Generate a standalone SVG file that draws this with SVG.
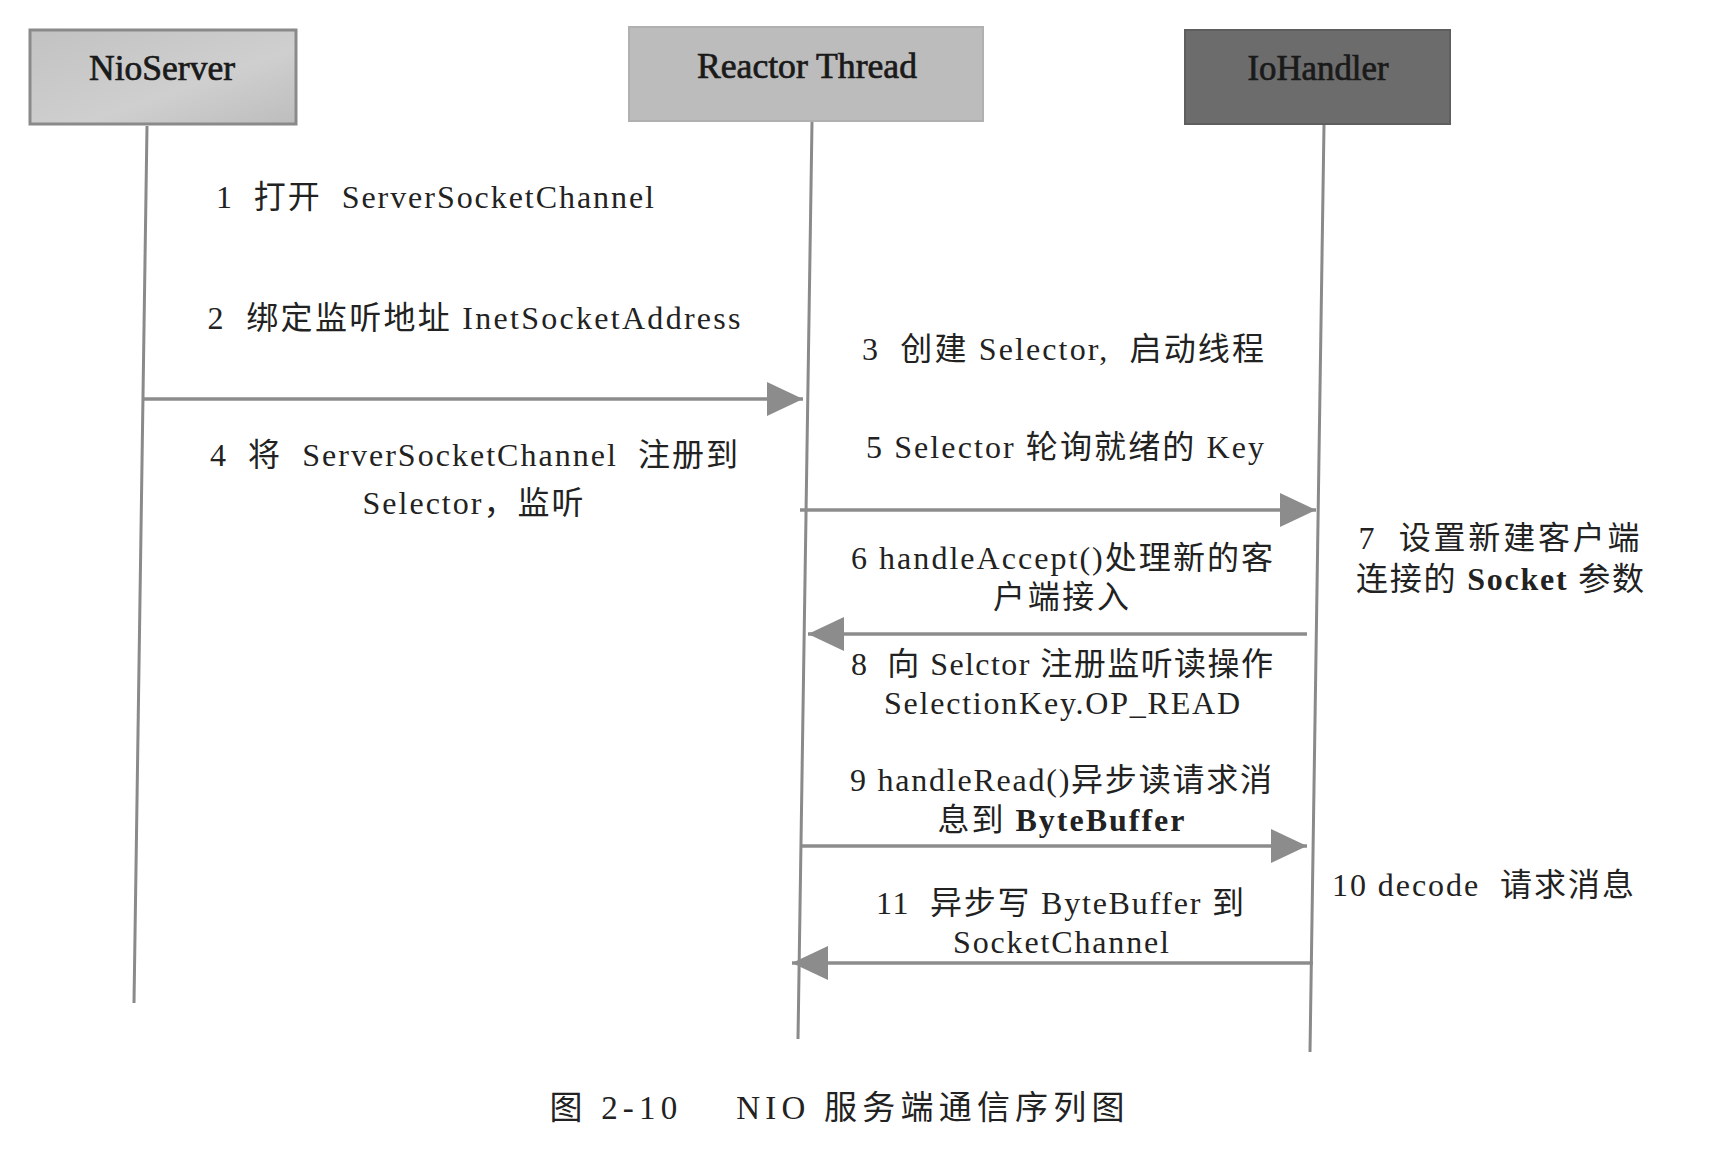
<svg xmlns="http://www.w3.org/2000/svg" width="1719" height="1163" viewBox="0 0 1719 1163">
<style>
.t{font-family:"Liberation Serif","Noto Sans CJK SC",serif;font-size:32px;fill:#222;white-space:pre;}
.h{font-family:"Liberation Serif","Noto Sans CJK SC",serif;font-size:35px;font-weight:normal;fill:#1a1a1a;stroke:#1a1a1a;stroke-width:0.7;}
.b{font-weight:bold;}
.life{stroke:#8a8a8a;stroke-width:3;fill:none;}
.msg{stroke:#8c8c8c;stroke-width:3.5;fill:none;marker-end:url(#ah);}
</style>
<defs>
<marker id="ah" viewBox="0 0 36 34" refX="36" refY="17" markerWidth="36" markerHeight="34" markerUnits="userSpaceOnUse" orient="auto">
<path d="M0,0 L36,17 L0,34 z" fill="#8c8c8c"/>
</marker>
<linearGradient id="g1" x1="0" y1="0" x2="1" y2="1">
<stop offset="0" stop-color="#c2c2c2"/><stop offset="0.6" stop-color="#cfcfcf"/><stop offset="1" stop-color="#bdbdbd"/>
</linearGradient>
</defs>
<rect width="1719" height="1163" fill="#ffffff"/>
<g id="nioserver">
<rect x="30" y="30" width="266" height="94" fill="url(#g1)" stroke="#8a8a8a" stroke-width="3"/>
<text class="h" x="162" y="80" text-anchor="middle" textLength="146" lengthAdjust="spacingAndGlyphs">NioServer</text>
</g>
<g id="reactor">
<rect x="629" y="27" width="354" height="94" fill="#bcbcbc" stroke="#b0b0b0" stroke-width="2"/>
<text class="h" x="807" y="78" text-anchor="middle" textLength="220" lengthAdjust="spacingAndGlyphs">Reactor Thread</text>
</g>
<g id="iohandler">
<rect x="1185" y="30" width="265" height="94" fill="#6c6c6c" stroke="#5e5e5e" stroke-width="2"/>
<text class="h" x="1318" y="80" text-anchor="middle" textLength="141" lengthAdjust="spacingAndGlyphs">IoHandler</text>
</g>
<g id="lifelines">
<line class="life" x1="147" y1="126" x2="134" y2="1003"/>
<line class="life" x1="812" y1="122" x2="798" y2="1039"/>
<line class="life" x1="1324" y1="125" x2="1310" y2="1052"/>
</g>
<g id="connectors">
<line class="msg" x1="144" y1="399" x2="803" y2="399"/>
<line class="msg" x1="800" y1="510" x2="1316" y2="510"/>
<line class="msg" x1="1307" y1="634" x2="808" y2="634"/>
<line class="msg" x1="802" y1="846" x2="1307" y2="846"/>
<line class="msg" x1="1313" y1="963" x2="792" y2="963"/>
</g>
<g id="labels">
<text class="t" x="435" y="208" text-anchor="middle" textLength="438" lengthAdjust="spacing">1  打开  ServerSocketChannel</text>
<text class="t" x="474" y="329" text-anchor="middle" textLength="533" lengthAdjust="spacing">2  绑定监听地址 InetSocketAddress</text>
<text class="t" x="1063" y="360" text-anchor="middle" textLength="402" lengthAdjust="spacing">3  创建 Selector,  启动线程</text>
<text class="t" x="474" y="466" text-anchor="middle" textLength="528" lengthAdjust="spacing">4  将  ServerSocketChannel  注册到</text>
<text class="t" x="473" y="514" text-anchor="middle" textLength="221" lengthAdjust="spacing">Selector，监听</text>
<text class="t" x="1065" y="458" text-anchor="middle" textLength="398" lengthAdjust="spacing">5 Selector 轮询就绪的 Key</text>
<text class="t" x="1062" y="569" text-anchor="middle" textLength="422" lengthAdjust="spacing">6 handleAccept()处理新的客</text>
<text class="t" x="1061" y="608" text-anchor="middle" textLength="136" lengthAdjust="spacing">户端接入</text>
<text class="t" x="1499" y="549" text-anchor="middle" textLength="281" lengthAdjust="spacing">7  设置新建客户端</text>
<text class="t" x="1500" y="590" text-anchor="middle" textLength="288" lengthAdjust="spacing">连接的 <tspan class="b">Socket</tspan> 参数</text>
<text class="t" x="1062" y="675" text-anchor="middle" textLength="422" lengthAdjust="spacing">8  向 Selctor 注册监听读操作</text>
<text class="t" x="1062" y="714" text-anchor="middle" textLength="356" lengthAdjust="spacing">SelectionKey.OP_READ</text>
<text class="t" x="1061" y="791" text-anchor="middle" textLength="422" lengthAdjust="spacing">9 handleRead()异步读请求消</text>
<text class="t" x="1061" y="831" text-anchor="middle" textLength="247" lengthAdjust="spacing">息到 <tspan class="b">ByteBuffer</tspan></text>
<text class="t" x="1483" y="896" text-anchor="middle" textLength="302" lengthAdjust="spacing">10 decode  请求消息</text>
<text class="t" x="1060" y="914" text-anchor="middle" textLength="368" lengthAdjust="spacing">11  异步写 ByteBuffer 到</text>
<text class="t" x="1061" y="953" text-anchor="middle" textLength="216" lengthAdjust="spacing">SocketChannel</text>
</g>
<g id="caption">
<text class="t" x="837" y="1119" text-anchor="middle" textLength="575" lengthAdjust="spacing" style="font-size:33px">图 2-10    NIO 服务端通信序列图</text>
</g>
</svg>
